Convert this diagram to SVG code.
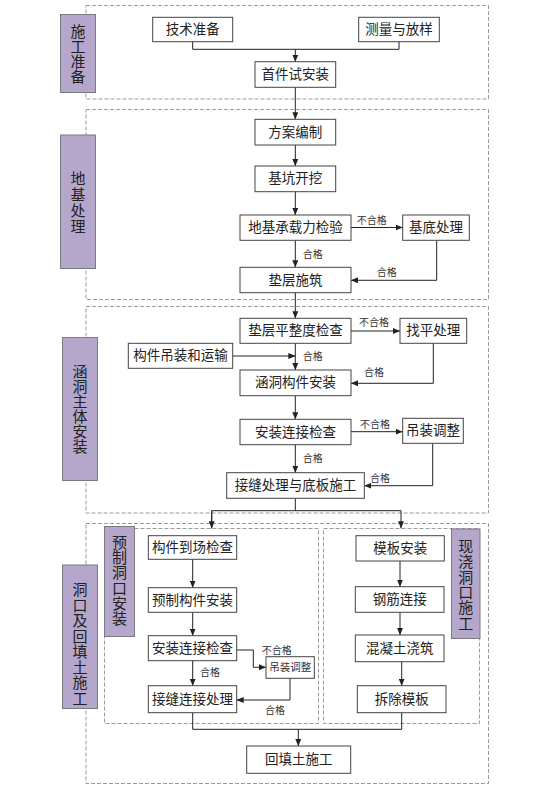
<svg xmlns="http://www.w3.org/2000/svg" width="540" height="787" viewBox="0 0 540 787">
<style>
.sec{fill:none;stroke:#9a9a9a;stroke-width:1;stroke-dasharray:4 2}
.lab{fill:#b4a7cb;stroke:#7a7a84;stroke-width:1}
.box{fill:#fff;stroke:#444;stroke-width:1}
.t{font-family:"Liberation Serif","Noto Sans CJK SC",serif;font-size:13.5px;fill:#222;text-anchor:middle;dominant-baseline:central}
.lt{font-family:"Liberation Serif","Noto Sans CJK SC",serif;font-size:15px;fill:#222;text-anchor:middle;dominant-baseline:central}
.s{font-family:"Liberation Serif","Noto Sans CJK SC",serif;font-size:10px;fill:#333;text-anchor:middle;dominant-baseline:central}
.c{fill:none;stroke:#222;stroke-width:1}
</style>
<defs>
<marker id="ah" markerWidth="7" markerHeight="6" refX="7" refY="3" orient="auto" markerUnits="userSpaceOnUse">
<path d="M0,0 L7,3 L0,6 Z" fill="#222"/>
</marker>
</defs>
<rect width="540" height="787" fill="#fff"/>

<g id="sections">
<rect class="sec" x="86" y="5.5" width="402.5" height="93.5"/>
<rect class="sec" x="86" y="109.5" width="402.5" height="190"/>
<rect class="sec" x="86" y="306.5" width="402.5" height="206.5"/>
<rect class="sec" x="86" y="523.5" width="402.5" height="260"/>
<rect class="sec" x="104.5" y="528.5" width="214" height="195"/>
<rect class="sec" x="323.5" y="528.5" width="156" height="195"/>
</g>

<g id="label-sgzb"><rect class="lab" x="60.5" y="14.5" width="35" height="78"/>
<text class="lt" x="78"><tspan x="78" y="31.5">施</tspan><tspan x="78" y="46.5">工</tspan><tspan x="78" y="61.5">准</tspan><tspan x="78" y="76.5">备</tspan></text></g>
<g id="label-djcl"><rect class="lab" x="60.5" y="135" width="35" height="133.5"/>
<text class="lt" x="78"><tspan x="78" y="179">地</tspan><tspan x="78" y="195">基</tspan><tspan x="78" y="211">处</tspan><tspan x="78" y="227">理</tspan></text></g>
<g id="label-hdzt"><rect class="lab" x="62.5" y="337.5" width="35" height="143"/>
<text class="lt" x="80"><tspan x="80" y="371.5">涵</tspan><tspan x="80" y="386.5">洞</tspan><tspan x="80" y="401.5">主</tspan><tspan x="80" y="416.5">体</tspan><tspan x="80" y="431.5">安</tspan><tspan x="80" y="446.5">装</tspan></text></g>
<g id="label-dkhtt"><rect class="lab" x="62.5" y="565" width="35" height="143.5"/>
<text class="lt" x="80"><tspan x="80" y="590">洞</tspan><tspan x="80" y="605.5">口</tspan><tspan x="80" y="621">及</tspan><tspan x="80" y="636.5">回</tspan><tspan x="80" y="652">填</tspan><tspan x="80" y="667.5">土</tspan><tspan x="80" y="683">施</tspan><tspan x="80" y="698.5">工</tspan></text></g>
<g id="label-yzdk"><rect class="lab" x="104.5" y="526.5" width="30" height="110"/>
<text class="lt" x="119.5"><tspan x="119.5" y="543">预</tspan><tspan x="119.5" y="558.2">制</tspan><tspan x="119.5" y="573.4">洞</tspan><tspan x="119.5" y="588.6">口</tspan><tspan x="119.5" y="603.8">安</tspan><tspan x="119.5" y="619">装</tspan></text></g>
<g id="label-xjdk"><rect class="lab" x="451.5" y="529" width="28.5" height="109.5"/>
<text class="lt" x="465.8"><tspan x="465.8" y="547">现</tspan><tspan x="465.8" y="562.3">浇</tspan><tspan x="465.8" y="577.6">洞</tspan><tspan x="465.8" y="592.9">口</tspan><tspan x="465.8" y="608.2">施</tspan><tspan x="465.8" y="623.5">工</tspan></text></g>

<g id="connectors">
<path class="c" d="M192.7,41.7 V49.3 H399 V41.7"/>
<path class="c" d="M295.3,49.3 V61.7" marker-end="url(#ah)"/>
<path class="c" d="M295.3,87.3 V119.3" marker-end="url(#ah)"/>
<path class="c" d="M295.3,145 V166" marker-end="url(#ah)"/>
<path class="c" d="M295.3,191.7 V215" marker-end="url(#ah)"/>
<path class="c" d="M351,227.5 H402.7" marker-end="url(#ah)"/>
<path class="c" d="M295.3,240.3 V267.3" marker-end="url(#ah)"/>
<path class="c" d="M436.7,240.3 V280.3 H351" marker-end="url(#ah)"/>
<path class="c" d="M295.3,292.7 V318.3" marker-end="url(#ah)"/>
<path class="c" d="M351,331 H400" marker-end="url(#ah)"/>
<path class="c" d="M295.3,343.3 V370" marker-end="url(#ah)"/>
<path class="c" d="M232.7,356 H295.3" marker-end="url(#ah)"/>
<path class="c" d="M433.3,343.3 V383.3 H351" marker-end="url(#ah)"/>
<path class="c" d="M295.3,395.7 V419.3" marker-end="url(#ah)"/>
<path class="c" d="M351,431.7 H402.7" marker-end="url(#ah)"/>
<path class="c" d="M295.3,444.7 V472.7" marker-end="url(#ah)"/>
<path class="c" d="M432.7,443.3 V485.7 H364.3" marker-end="url(#ah)"/>
<path class="c" d="M295.3,498.3 V510.7"/>
<path class="c" d="M211.7,528.3 V510.7 H401 V528.3" marker-end="url(#ah)"/>
<path class="c" d="M211.7,510.7 V528.3" marker-end="url(#ah)"/>
<path class="c" d="M192.7,559.3 V587.7" marker-end="url(#ah)"/>
<path class="c" d="M192.7,612.3 V635.7" marker-end="url(#ah)"/>
<path class="c" d="M192.7,660.7 V685.7" marker-end="url(#ah)"/>
<path class="c" d="M236.7,650 H253.3 V667.3 H266" marker-end="url(#ah)"/>
<path class="c" d="M290,678.3 V700 H236.7" marker-end="url(#ah)"/>
<path class="c" d="M400,561 V586.7" marker-end="url(#ah)"/>
<path class="c" d="M400,612.3 V635" marker-end="url(#ah)"/>
<path class="c" d="M401.7,661.7 V685.7" marker-end="url(#ah)"/>
<path class="c" d="M192.7,712.7 V729.3 H401.7 V712.7"/>
<path class="c" d="M298.3,729.3 V746" marker-end="url(#ah)"/>
<text class="s" x="371.7" y="220">不合格</text>
<text class="s" x="312.7" y="254">合格</text>
<text class="s" x="386.7" y="272.7">合格</text>
<text class="s" x="374" y="322.7">不合格</text>
<text class="s" x="312.7" y="356">合格</text>
<text class="s" x="374" y="372.7">合格</text>
<text class="s" x="375" y="424">不合格</text>
<text class="s" x="312.7" y="458.3">合格</text>
<text class="s" x="380" y="478.3">合格</text>
<text class="s" x="276.7" y="650">不合格</text>
<text class="s" x="210" y="672.3">合格</text>
<text class="s" x="275" y="710">合格</text>
</g>

<g id="n-jszb"><rect class="box" x="152.7" y="17.3" width="80" height="24.4"/><text class="t" x="192.7" y="29.5">技术准备</text></g>
<g id="n-clyfy"><rect class="box" x="358.7" y="17.3" width="80.6" height="24.4"/><text class="t" x="399" y="29.5">测量与放样</text></g>
<g id="n-sjsaz"><rect class="box" x="255" y="61.7" width="80.7" height="25.6"/><text class="t" x="295.3" y="74.5">首件试安装</text></g>
<g id="n-fabz"><rect class="box" x="255" y="119.3" width="80.7" height="25.7"/><text class="t" x="295.3" y="132.2">方案编制</text></g>
<g id="n-jkkw"><rect class="box" x="255" y="166" width="80.7" height="25.7"/><text class="t" x="295.3" y="178.9">基坑开挖</text></g>
<g id="n-djczl"><rect class="box" x="240" y="215" width="111" height="25.3"/><text class="t" x="295.5" y="227.7">地基承载力检验</text></g>
<g id="n-jdcl"><rect class="box" x="402.7" y="215" width="66.6" height="25.3"/><text class="t" x="436" y="227.7">基底处理</text></g>
<g id="n-dcsz"><rect class="box" x="240" y="267.3" width="111" height="25.4"/><text class="t" x="295.5" y="280">垫层施筑</text></g>
<g id="n-dcpzd"><rect class="box" x="240" y="318.3" width="111" height="25"/><text class="t" x="295.5" y="330.8">垫层平整度检查</text></g>
<g id="n-zpcl"><rect class="box" x="400" y="318.3" width="66.7" height="25"/><text class="t" x="433.3" y="330.8">找平处理</text></g>
<g id="n-gjdz"><rect class="box" x="128.3" y="343.3" width="104.4" height="25"/><text class="t" x="180.5" y="355.8">构件吊装和运输</text></g>
<g id="n-hdgjaz"><rect class="box" x="240" y="370" width="111" height="25.7"/><text class="t" x="295.5" y="382.9">涵洞构件安装</text></g>
<g id="n-azljjc"><rect class="box" x="240" y="419.3" width="111" height="25.4"/><text class="t" x="295.5" y="432">安装连接检查</text></g>
<g id="n-dztz"><rect class="box" x="402.7" y="418.3" width="60.6" height="25"/><text class="t" x="433" y="430.8">吊装调整</text></g>
<g id="n-jfcl"><rect class="box" x="226.7" y="472.7" width="137.6" height="25.6"/><text class="t" x="295.5" y="485.5">接缝处理与底板施工</text></g>
<g id="n-gjdcjc"><rect class="box" x="148.3" y="535.7" width="88.4" height="23.6"/><text class="t" x="192.5" y="547.5">构件到场检查</text></g>
<g id="n-yzgjaz"><rect class="box" x="148.3" y="587.7" width="88.4" height="24.6"/><text class="t" x="192.5" y="600">预制构件安装</text></g>
<g id="n-azljjc2"><rect class="box" x="148.3" y="635.7" width="88.4" height="25"/><text class="t" x="192.5" y="648.2">安装连接检查</text></g>
<g id="n-dztz2"><rect class="box" x="266" y="656.7" width="48.3" height="21.6"/><text class="s" x="290.2" y="667.5" style="font-size:10.5px">吊装调整</text></g>
<g id="n-jfljcl"><rect class="box" x="148.3" y="685.7" width="88.4" height="27"/><text class="t" x="192.5" y="699.2">接缝连接处理</text></g>
<g id="n-mbaz"><rect class="box" x="356" y="535.7" width="88.3" height="25.3"/><text class="t" x="400.2" y="548.4">模板安装</text></g>
<g id="n-gjlj"><rect class="box" x="355.3" y="586.7" width="88.7" height="25.6"/><text class="t" x="399.7" y="599.5">钢筋连接</text></g>
<g id="n-hntjz"><rect class="box" x="355.3" y="635" width="88.7" height="26.7"/><text class="t" x="399.7" y="648.4">混凝土浇筑</text></g>
<g id="n-ccmb"><rect class="box" x="357.3" y="685.7" width="88.7" height="27"/><text class="t" x="401.7" y="699.2">拆除模板</text></g>
<g id="n-htt"><rect class="box" x="246.7" y="746" width="104" height="27.3"/><text class="t" x="298.7" y="759.7">回填土施工</text></g>
</svg>
